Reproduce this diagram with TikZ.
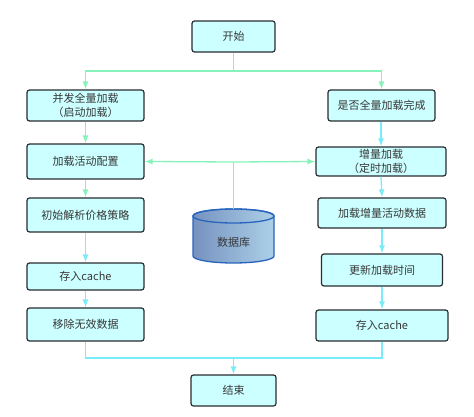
\documentclass[tikz,border=0pt]{standalone}
\usepackage{fontspec}
\newfontfamily\cjk{Noto Sans CJK SC}
\usetikzlibrary{arrows.meta}
\definecolor{boxfill}{RGB}{204,255,255}
\definecolor{boxline}{RGB}{40,44,48}
\definecolor{txt}{RGB}{55,55,55}
\definecolor{gline}{RGB}{135,242,185}
\definecolor{cline}{RGB}{120,236,248}
\definecolor{dbline}{RGB}{40,100,190}
\definecolor{dbleft}{RGB}{118,146,192}
\definecolor{dbright}{RGB}{172,208,232}
\tikzset{
  stepbox/.style={draw=boxline, fill=boxfill, line width=1.2pt, rounded corners=2.5pt,
    inner sep=0pt, align=center, text=txt, font=\cjk\fontsize{11}{13.5}\selectfont},
  gconn/.style={draw=gline, line width=1.3pt},
  cconn/.style={draw=cline, line width=1.3pt},
  tip/.style={-{Latex[length=8pt,width=6pt]}}
}
\begin{document}
\begin{tikzpicture}[x=1pt,y=-1pt]
\useasboundingbox (0,0) rectangle (474,417);
% boxes
\node[stepbox, minimum width=83pt, minimum height=31pt] (start) at (233.5,36.5) {开始};
\node[stepbox, minimum width=117pt, minimum height=31pt] (L1) at (85.5,105.5) {并发全量加载\\（启动加载）};
\node[stepbox, minimum width=107pt, minimum height=31pt] (R1) at (381.5,105.5) {是否全量加载完成};
\node[stepbox, minimum width=117pt, minimum height=35pt] (L2) at (85.5,161.5) {加载活动配置};
\node[stepbox, minimum width=130pt, minimum height=29pt] (R2) at (381,161.5) {增量加载\\（定时加载）};
\node[stepbox, minimum width=117pt, minimum height=34pt] (L3) at (85.5,215) {初始解析价格策略};
\node[stepbox, minimum width=128pt, minimum height=30pt] (R3) at (382,213) {加载增量活动数据};
\node[stepbox, minimum width=117pt, minimum height=27pt] (L4) at (85.5,276.5) {存入cache};
\node[stepbox, minimum width=121pt, minimum height=32pt] (R4) at (382,270) {更新加载时间};
\node[stepbox, minimum width=117pt, minimum height=33pt] (L5) at (85.5,324.5) {移除无效数据};
\node[stepbox, minimum width=132pt, minimum height=31pt] (R5) at (382,325.5) {存入cache};
\node[stepbox, minimum width=85pt, minimum height=31pt] (end) at (233.5,390.5) {结束};
% database cylinder
\shade[left color=dbleft, right color=dbright, draw=dbline, line width=1.3pt]
  (193,216) -- (193,256) arc [start angle=180, end angle=360, x radius=40.5pt, y radius=7pt]
  -- (274,216) arc [start angle=0, end angle=180, x radius=40.5pt, y radius=7pt] -- cycle;
\draw[draw=dbline, line width=1.3pt] (233.5,216) ellipse [x radius=40.5pt, y radius=7pt];
\node[text=txt, font=\cjk\fontsize{11}{13.5}\selectfont] (db) at (233.5,242) {数据库};
\coordinate (dbtop) at (233.5,209);
% connectors
\coordinate (split) at (233.5,71);
\coordinate (hub) at (233.5,162);
\coordinate (merge) at (233.5,358);
\draw[gconn] (start.south) -- (split);
\draw[gconn, tip] (split) -| (L1.north);
\draw[gconn, tip] (split) -| (R1.north);
\draw[gconn, tip] (L1.south) -- (L2.north);
\draw[gconn, tip] (L2.south) -- (L3.north);
\draw[cconn, tip] (L3.south) -- (L4.north);
\draw[cconn, tip] (L4.south) -- (L5.north);
\draw[cconn, tip] (R1.south -| R2.north) -- (R2.north);
\draw[cconn, tip] (R2.south) -- (R3.north);
\draw[cconn, tip] (R3.south) -- (R4.north);
\draw[cconn, tip] (R4.south) -- (R5.north);
\draw[gconn] (dbtop) -- (hub);
\draw[gconn, tip] (hub) -- (L2.east);
\draw[gconn, tip] (hub) -- (R2.west);
\draw[cconn] (L5.south) |- (merge);
\draw[cconn] (R5.south) |- (merge);
\draw[cconn, tip] (merge) -- (end.north);
\end{tikzpicture}
\end{document}
